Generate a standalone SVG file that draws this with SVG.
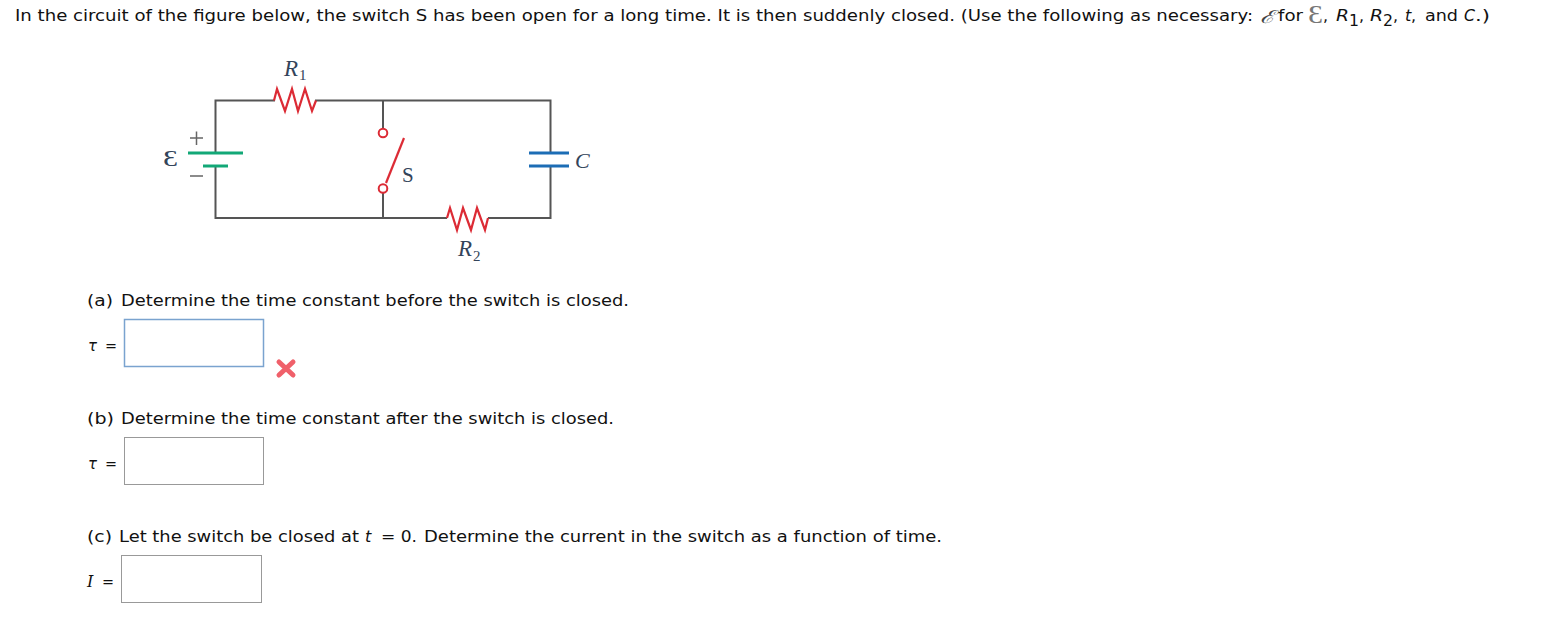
<svg xmlns="http://www.w3.org/2000/svg" width="1542" height="627" viewBox="0 0 1542 627">
<style>
.t{font-family:"DejaVu Sans",Verdana,sans-serif;font-size:16px;fill:#111}
.i{font-style:italic}
.f{font-family:"Liberation Serif",serif;fill:#33445a}
.w{fill:none;stroke:#555;stroke-width:2}
.r{fill:none;stroke:#dc2b35;stroke-width:2.200;stroke-linejoin:miter}
.g{stroke:#12a877;stroke-width:3}
.b{stroke:#1c6db5;stroke-width:3}
.box{fill:#fff;stroke:#999;stroke-width:1}
.k{stroke:#666;stroke-width:1.500}
</style>
<rect width="1542" height="627" fill="#fff"/>
<text class="t" x="15" y="21" textLength="1238" lengthAdjust="spacingAndGlyphs">In the circuit of the figure below, the switch S has been open for a long time. It is then suddenly closed. (Use the following as necessary:</text>
<text x="1260" y="23" font-family="DejaVu Serif,serif" font-style="italic" font-size="18" fill="#444" id="script-e" textLength="15" lengthAdjust="spacingAndGlyphs">ℰ</text>
<text class="t" x="1278" y="21" textLength="25" lengthAdjust="spacingAndGlyphs">for</text>
<text x="1308" y="23" font-family="Liberation Serif,serif" font-size="25" fill="#777" textLength="15" lengthAdjust="spacingAndGlyphs">Ɛ</text>
<text class="t" x="1323" y="21">,</text>
<text class="t i" x="1336" y="21" textLength="13" lengthAdjust="spacingAndGlyphs">R</text>
<text class="t" x="1349" y="26" textLength="10" lengthAdjust="spacingAndGlyphs">1</text>
<text class="t" x="1359" y="21">,</text>
<text class="t i" x="1370" y="21" textLength="13" lengthAdjust="spacingAndGlyphs">R</text>
<text class="t" x="1383" y="26" textLength="10" lengthAdjust="spacingAndGlyphs">2</text>
<text class="t" x="1393" y="21">,</text>
<text class="t i" x="1405" y="21">t</text>
<text class="t" x="1411" y="21">,</text>
<text class="t" x="1425" y="21" textLength="33" lengthAdjust="spacingAndGlyphs">and</text>
<text class="t i" x="1464" y="21" textLength="11" lengthAdjust="spacingAndGlyphs">C</text>
<text class="t" x="1475" y="21" textLength="15" lengthAdjust="spacingAndGlyphs">.)</text>

<g id="connectors">
<path class="w" d="M215.500 153V100.500H275M315 100.500H550.500V153M550.500 166V218H488M447 218H215.500V166"/>
<path class="w" d="M383 100.500V129M383 192V218"/>
</g>
<g id="battery">
<line class="g" x1="188" y1="153" x2="243" y2="153"/>
<line class="g" x1="203" y1="166" x2="228" y2="166"/>
<path class="k" d="M190 138H203M196.500 131.500V145M190 176H203" fill="none"/>
<text class="f" x="163" y="166" font-size="23" textLength="15" lengthAdjust="spacingAndGlyphs">Ɛ</text>
</g>
<g id="R1">
<path class="r" d="M274 100.500L277 89L285 111L292 89L298 111L305 89L312 111L316 100.500"/>
<text class="f i" x="284" y="76" font-size="23">R</text>
<text class="f" x="299" y="80" font-size="15">1</text>
</g>
<g id="switch">
<circle cx="383" cy="133" r="4.300" fill="#fff" stroke="#dc2b35" stroke-width="2"/>
<circle cx="383" cy="188.500" r="4.300" fill="#fff" stroke="#dc2b35" stroke-width="2"/>
<line class="r" x1="386" y1="183" x2="404" y2="138"/>
<text class="f" x="402" y="182" font-size="21">S</text>
</g>
<g id="C">
<line class="b" x1="529" y1="153" x2="569" y2="153"/>
<line class="b" x1="529" y1="166" x2="569" y2="166"/>
<text class="f i" x="575" y="168" font-size="22">C</text>
</g>
<g id="R2">
<path class="r" d="M447 218L450 208L457 230L463 208L471 230L477 208L485 230L488 218"/>
<text class="f i" x="458" y="256" font-size="23">R</text>
<text class="f" x="473" y="261" font-size="15">2</text>
</g>

<text class="t" x="87" y="306" textLength="26" lengthAdjust="spacingAndGlyphs">(a)</text>
<text class="t" x="121" y="306" textLength="508" lengthAdjust="spacingAndGlyphs">Determine the time constant before the switch is closed.</text>
<text class="t i" x="88" y="351" textLength="9" lengthAdjust="spacingAndGlyphs">τ</text>
<text class="t" x="105" y="351" textLength="12" lengthAdjust="spacingAndGlyphs">=</text>
<g id="answer-a"><rect x="124.500" y="319.500" width="139" height="47" fill="#fff" stroke="#7aa3cf" stroke-width="1.500"/></g>
<g id="wrong-mark"><path d="M279 362L293 375M293 362L279 375" stroke="#f0606a" stroke-width="5" stroke-linecap="round"/></g>

<text class="t" x="87" y="424" textLength="27" lengthAdjust="spacingAndGlyphs">(b)</text>
<text class="t" x="121" y="424" textLength="493" lengthAdjust="spacingAndGlyphs">Determine the time constant after the switch is closed.</text>
<text class="t i" x="88" y="469" textLength="9" lengthAdjust="spacingAndGlyphs">τ</text>
<text class="t" x="105" y="469" textLength="12" lengthAdjust="spacingAndGlyphs">=</text>
<g id="answer-b"><rect class="box" x="124.500" y="437.500" width="139" height="47"/></g>

<text class="t" x="87" y="542" textLength="25" lengthAdjust="spacingAndGlyphs">(c)</text>
<text class="t" x="119" y="542" textLength="240" lengthAdjust="spacingAndGlyphs">Let the switch be closed at</text>
<text class="t i" x="365" y="542">t</text>
<text class="t" x="381" y="542" textLength="36" lengthAdjust="spacingAndGlyphs">= 0.</text>
<text class="t" x="424" y="542" textLength="518" lengthAdjust="spacingAndGlyphs">Determine the current in the switch as a function of time.</text>
<text x="87" y="587" font-family="DejaVu Serif,serif" font-style="italic" font-size="16" fill="#111">I</text>
<text class="t" x="102" y="587" textLength="12" lengthAdjust="spacingAndGlyphs">=</text>
<g id="answer-c"><rect class="box" x="121.500" y="555.500" width="140" height="47"/></g>
</svg>
